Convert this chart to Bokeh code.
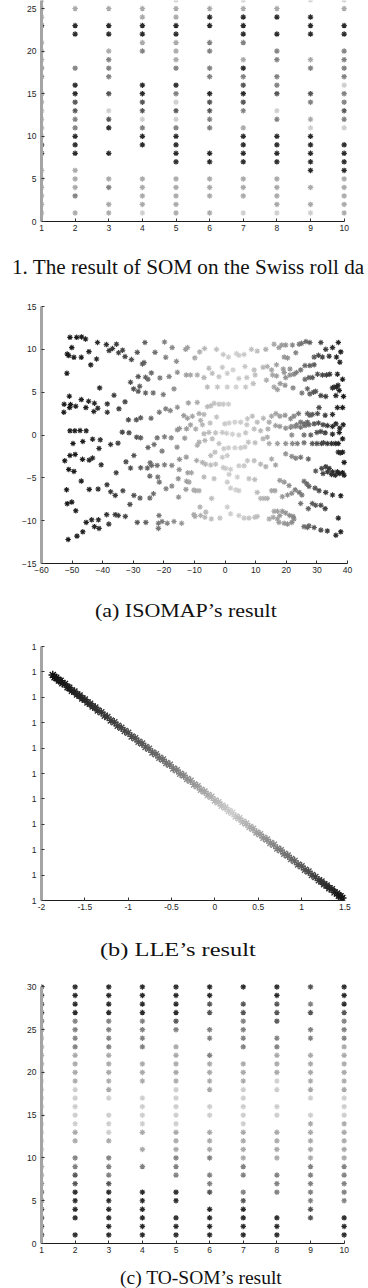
from bokeh.plotting import figure
from bokeh.layouts import column
from bokeh.models import Div, FixedTicker
from bokeh.transform import linear_cmap
from bokeh.embed import file_html
from bokeh.resources import INLINE
import numpy as np

# ---------------- data ----------------
SHADE = {"D": "#2b2b2b", "M": "#565656", "G": "#828282", "L": "#aaaaaa", "V": "#cecece"}

# Fig. 1 : SOM on the Swiss roll (columns 1..10, grid rows, shade per node)
som_rows = [
    [1, 2, 3, 4, 5, 6, 8, 9, 10, 11, 12, 13, 14, 15, 17, 18, 19, 20, 21, 23, 24, 25, 26],
    [1, 3, 4, 5, 6, 8, 9, 10, 11, 12, 13, 14, 15, 16, 18, 22, 23, 25],
    [1, 2, 4, 5, 8, 11, 12, 13, 15, 17, 18, 19, 20, 22, 23, 25],
    [1, 2, 3, 4, 5, 9, 10, 11, 12, 13, 14, 15, 16, 20, 21, 22, 23, 24, 25],
    [1, 2, 3, 4, 5, 7, 8, 9, 10, 11, 12, 13, 14, 15, 16, 18, 19, 20, 21, 22, 23, 24, 25, 26],
    [1, 3, 4, 5, 7, 8, 11, 12, 13, 14, 15, 17, 18, 20, 21, 23, 24, 25],
    [1, 3, 4, 5, 7, 8, 9, 10, 11, 13, 14, 15, 16, 17, 18, 19, 21, 22, 23, 24, 25, 26],
    [1, 2, 3, 4, 5, 7, 8, 9, 10, 12, 13, 15, 16, 17, 19, 20, 22, 24, 25],
    [1, 2, 4, 6, 7, 8, 9, 10, 11, 12, 14, 15, 18, 19, 22, 23, 24, 26],
    [1, 2, 3, 4, 5, 6, 7, 8, 9, 11, 12, 13, 14, 15, 16, 17, 18, 19, 20, 22, 23, 25, 26],
]
som_shades = [
    "LLLLLLDDLLLLLGGGLLLDLLL",
    "LGLLLDDDGGMMDDGDDL",
    "LLGLDDMVMGGGLDDL",
    "VLLLLDDGVMMDDGLDDLL",
    "LLLLLDDDDGVMVGDGLLLDDLLV",
    "LLLLDDGGMMDGGGGDDL",
    "VLLLDDDDLGMDMGDLGDDDLV",
    "VLLLLDDDDGVMGGGGDDL",
    "VLLDDDDDVLGMGLDDDV",
    "LLLLLDDDDVGMGGVGGGGDDLV",
]

# (c) TO-SOM's result
tosom_rows = [
    list(range(1, 31)),
    [1, 3, 4, 5, 6, 7, 8, 9, 10, 12, 13, 14, 15, 16, 17, 18, 19, 20, 21, 22, 23, 24, 25, 26, 27, 28, 29, 30],
    [1, 2, 3, 4, 5, 6, 7, 8, 9, 10, 12, 13, 14, 15, 17, 18, 19, 20, 21, 22, 23, 24, 25, 26, 27, 28, 29, 30],
    [1, 2, 3, 4, 5, 6, 9, 11, 13, 14, 15, 16, 17, 19, 20, 21, 23, 24, 25, 26, 27, 28, 29, 30],
    [1, 2, 3, 5, 6, 8, 9, 10, 11, 12, 13, 14, 15, 16, 17, 18, 19, 20, 21, 22, 23, 25, 26, 27, 28, 29, 30],
    [1, 2, 3, 4, 6, 7, 8, 10, 11, 12, 13, 15, 16, 18, 19, 20, 21, 22, 24, 25, 27, 28, 29, 30],
    [1, 2, 3, 4, 5, 6, 8, 9, 10, 11, 12, 13, 14, 15, 16, 17, 18, 19, 20, 21, 23, 24, 25, 26, 27, 28, 30],
    [1, 2, 3, 6, 7, 8, 10, 11, 12, 13, 15, 16, 18, 19, 20, 21, 22, 23, 24, 26, 27, 28, 29, 30],
    [3, 4, 5, 6, 7, 8, 9, 10, 11, 12, 13, 14, 15, 17, 18, 19, 20, 21, 22, 24, 25, 27, 28, 30],
    [1, 2, 3, 5, 6, 7, 8, 9, 10, 11, 12, 13, 14, 15, 16, 17, 18, 19, 20, 21, 22, 23, 24, 25, 26, 27, 28, 29, 30],
]
tosom_shades = [
    "DDDDMMGLLVVVVVVVVVVLLLLLGMDDDD",
    "DDDDDMMGGLLVVVVVLLLLGGGGDDDD",
    "DDDDDDMGGGLVVVVLLLLLGGGGDDDD",
    "DDDDDDGLLVVVVLLLGGGGDDDD",
    "DDDDDGGGLLLVVVVVLLLLLGMDDDD",
    "DDDDMGGGLLLVVLLLLGGGMMDD",
    "DDDDMGGGLLLLVVVVVLLLGGGGMMD",
    "DDDGGGLLLLVVVVLLLGGMMMDD",
    "MMGGGGGLLLLLVVLLLLLGGMGM",
    "DDDGGGGGLLLLLVVVLLLLLLGGGMDDD",
]

# (a) ISOMAP's result, read band by band
isomap_band1 = [(-50.7, 11.4), (-48.5, 11.4), (-46.9, 11.45), (-45.6, 11.2), (-50.1, 10.2), (-51.6, 9.46),
                (-51.1, 9.27), (-49.4, 9.07), (-47.0, 9.07), (-41.7, 10.8), (-44.5, 9.73), (-43.9, 8.18),
                (-42.0, 8.87), (-38.8, 10.55), (-37.9, 9.85), (-36.8, 10.1), (-35.5, 10.6), (-33.5, 9.9),
                (-32.7, 9.15), (-34.8, 9.6), (-30.6, 8.8), (-28.7, 9.65), (-26.2, 10.8), (-22.9, 9.65),
                (-19.8, 10.86), (-19.4, 9.07), (-17.3, 10.2), (-15.9, 8.6), (-12.9, 10.0), (-12.3, 10.2),
                (-9.9, 9.0), (-8.3, 9.7), (-6.7, 10.1), (-2.8, 10.0), (-0.6, 9.4), (1.1, 9.1), (3.7, 9.5),
                (4.5, 9.3), (6.2, 9.4), (8.6, 10.0), (10.5, 9.8), (13.3, 10.0), (16.0, 10.6), (17.6, 10.2),
                (18.5, 10.5), (19.8, 10.5), (19.3, 9.1), (20.4, 9.0), (22.0, 10.5), (23.1, 9.6), (24.2, 10.6),
                (25.0, 10.7), (26.4, 10.9), (27.7, 10.8), (31.3, 10.8), (32.9, 10.0), (35.1, 10.2), (37.0, 10.8),
                (37.8, 9.7), (29.1, 9.1), (30.5, 9.3), (31.8, 9.1), (34.0, 9.2), (36.4, 9.1), (37.5, 8.5)]
isomap_band2 = [(-51.7, 7.2), (-27.0, 8.3), (-26.5, 8.45), (-24.1, 7.25), (-30.9, 6.16), (-29.9, 5.38),
                (-27.9, 5.69), (-28.4, 6.82), (-26.0, 6.74), (-25.2, 6.51), (-28.4, 5.1), (-26.0, 4.91),
                (-23.5, 4.91), (-20.2, 4.72), (-21.3, 6.66), (-18.3, 6.82), (-15.6, 7.32), (-12.7, 7.0),
                (-11.3, 7.0), (-41.0, 5.5), (-36.3, 4.64), (-16.7, 5.38), (-9.1, 7.0), (-6.9, 6.7), (-5.3, 7.8),
                (-4.2, 7.2), (-2.0, 6.8), (-0.9, 7.9), (0.7, 7.2), (2.6, 7.6), (4.5, 6.6), (6.5, 8.0), (7.1, 6.7),
                (9.5, 7.6), (9.8, 7.0), (12.4, 7.9), (13.8, 8.0), (13.5, 6.4), (15.2, 7.6), (15.5, 7.0),
                (16.8, 8.2), (16.8, 6.9), (19.0, 7.7), (19.3, 7.3), (19.8, 6.7), (21.2, 7.7), (21.2, 7.0),
                (22.5, 7.1), (23.3, 7.3), (24.7, 7.6), (26.1, 8.1), (27.7, 8.1), (29.1, 8.2), (26.1, 6.5),
                (27.4, 6.7), (28.5, 6.7), (30.2, 7.1), (31.8, 7.0), (33.1, 7.0), (34.2, 7.1), (36.7, 7.1),
                (38.4, 6.5), (-5.8, 5.6), (-2.5, 5.6), (0.7, 5.6), (3.6, 5.6), (6.7, 5.6), (9.2, 6.0), (16.0, 5.6),
                (17.1, 5.3), (18.0, 6.0), (19.6, 5.8), (22.2, 5.5), (25.1, 4.9), (26.9, 5.4), (27.7, 4.8),
                (28.9, 5.0), (29.6, 5.1), (31.3, 4.6), (32.9, 4.5), (35.1, 5.5), (35.6, 5.6), (36.4, 5.6),
                (36.9, 5.8), (37.3, 5.2), (36.2, 4.6), (38.7, 4.5)]
isomap_band3 = [(-50.9, 4.52), (-52.6, 3.59), (-52.7, 2.66), (-50.5, 3.55), (-50.8, 3.2), (-48.8, 3.36),
                (-47.0, 4.13), (-45.5, 3.2), (-44.6, 3.94), (-42.7, 3.71), (-42.9, 2.74), (-41.6, 3.13),
                (-38.5, 3.63), (-38.5, 2.66), (-34.7, 3.05), (-32.7, 3.87), (-31.6, 1.77), (-29.0, 1.77),
                (-27.6, 2.0), (-24.2, 1.96), (-21.5, 2.66), (-19.4, 3.05), (-17.9, 2.85), (-15.6, 3.24),
                (-12.0, 3.75), (-13.5, 2.27), (-12.3, 1.96), (-10.7, 2.19), (-11.3, 1.18), (-9.1, 3.8),
                (-5.8, 3.3), (-4.7, 3.4), (-3.6, 3.7), (-2.0, 3.6), (-0.6, 3.6), (1.1, 3.6), (-8.5, 2.5),
                (-6.9, 2.4), (-2.8, 2.1), (-8.0, 1.7), (-4.9, 1.4), (-0.1, 1.3), (1.3, 1.4), (3.2, 1.5), (5.1, 1.5),
                (7.3, 1.9), (8.9, 2.2), (7.1, 1.2), (10.5, 1.5), (12.5, 1.96), (14.4, 1.5), (15.2, 2.2),
                (16.6, 2.5), (17.9, 2.2), (19.6, 2.3), (21.4, 1.9), (22.5, 2.2), (24.0, 2.5), (26.9, 2.5),
                (27.7, 2.3), (28.5, 2.4), (30.2, 2.5), (30.7, 3.2), (32.7, 2.3), (35.1, 2.4), (36.7, 3.2),
                (38.4, 3.2), (24.7, 1.5), (25.8, 1.3), (26.9, 1.5), (29.1, 1.3), (30.5, 1.4), (32.0, 1.2),
                (33.4, 1.1), (35.1, 1.0), (36.2, 1.3), (38.6, 1.2), (21.8, 1.0), (23.4, 1.2)]
isomap_band4 = [(-50.7, 0.49), (-49.1, 0.49), (-47.4, 0.52), (-45.4, 0.49), (-49.7, -0.99), (-46.5, -0.76),
                (-43.3, -0.49), (-40.8, -0.56), (-41.2, -1.57), (-37.4, -1.11), (-35.0, -0.95), (-33.6, 0.33),
                (-31.4, 0.25), (-28.9, -0.25), (-27.6, -0.33), (-25.2, -1.46), (-23.2, -1.11), (-22.2, -0.33),
                (-19.8, -0.21), (-20.6, -1.88), (-15.6, 0.6), (-14.9, 0.76), (-17.6, -0.33), (-15.7, -1.42),
                (-12.6, 0.72), (-13.2, -0.37), (-9.6, 0.7), (-7.4, 1.2), (-5.3, 0.3), (-3.1, 0.25), (-0.9, 0.3),
                (-6.9, 0.14), (0.5, 0.2), (2.4, 0.1), (4.5, 0.0), (6.7, 0.25), (9.5, 0.7), (11.6, 0.5), (14.0, 0.7),
                (16.5, 1.1), (17.9, 1.0), (19.8, 0.8), (21.4, 0.9), (23.1, 1.0), (24.7, 0.9), (26.1, 1.1),
                (27.4, 1.2), (21.8, 0.0), (25.8, 0.0), (28.0, 0.0), (30.0, 0.3), (31.3, 0.4), (32.7, 0.25),
                (35.1, 0.1), (37.3, 0.3), (37.5, 0.8), (38.4, -0.45), (28.5, -1.0), (30.0, -1.0), (31.5, -1.0),
                (32.1, -0.9), (33.4, -1.0), (34.8, -1.0), (36.0, -1.0), (37.0, -1.0), (19.8, -1.0), (22.0, -1.0),
                (23.6, -1.0), (25.8, -0.9), (14.4, -1.0), (17.1, -1.0), (38.4, -2.0), (37.6, -2.1), (37.0, -2.0),
                (38.9, -3.2), (-8.5, -0.84), (-6.6, -0.64), (-4.2, -0.45), (-9.1, -1.2), (-2.0, -1.0),
                (-0.4, -1.6), (1.1, -1.5), (3.2, -1.5), (5.1, -1.5), (6.5, -1.4), (7.6, -0.84), (9.8, -0.9),
                (12.4, -0.45), (13.8, -0.25)]
isomap_band5 = [(-52.4, -3.01), (-50.7, -2.39), (-49.0, -2.27), (-51.1, -4.02), (-49.4, -4.25), (-46.6, -2.84),
                (-44.4, -2.93), (-43.3, -2.68), (-40.5, -3.48), (-35.6, -4.41), (-32.4, -3.13), (-30.9, -3.86),
                (-29.8, -2.39), (-27.6, -3.82), (-25.4, -3.86), (-24.5, -3.24), (-24.0, -3.55), (-22.2, -3.55),
                (-19.8, -3.48), (-17.4, -3.55), (-14.9, -2.84), (-15.0, -4.04), (-12.7, -2.58), (-12.2, -4.41),
                (-11.0, -4.41), (-24.6, -4.8), (-22.0, -4.9), (-21.5, -5.5), (-19.3, -6.27), (-17.4, -5.96),
                (-15.3, -5.1), (-12.6, -5.4), (-11.8, -5.5), (-12.8, -6.35), (-10.2, -6.43), (-9.3, -2.98),
                (-7.4, -3.2), (-4.7, -2.4), (-3.3, -2.0), (-6.4, -3.4), (-4.7, -3.5), (-3.1, -3.4), (-0.9, -2.6),
                (0.7, -2.4), (-0.6, -3.8), (0.2, -3.9), (1.8, -4.0), (1.3, -4.6), (4.5, -3.6), (6.2, -3.6),
                (7.3, -3.0), (9.5, -3.0), (11.6, -3.4), (13.3, -3.7), (15.2, -2.8), (16.5, -3.5), (19.8, -2.2),
                (21.8, -2.5), (23.1, -2.7), (24.7, -2.6), (27.2, -2.8), (29.6, -4.2), (31.6, -3.9), (32.9, -3.7),
                (34.0, -3.9), (35.1, -4.3), (36.7, -4.3), (37.3, -4.5), (38.4, -4.4), (38.9, -4.7), (32.0, -4.5),
                (33.5, -4.3), (34.8, -4.6), (36.0, -4.7), (-6.9, -4.9), (-3.6, -5.1), (0.7, -5.5), (4.0, -4.9),
                (7.8, -5.1), (9.7, -5.2)]
isomap_band6 = [(-51.8, -6.39), (-51.6, -8.02), (-50.1, -7.83), (-48.8, -8.84), (-47.0, -5.38), (-44.4, -6.35),
                (-41.5, -6.31), (-38.6, -5.81), (-37.4, -6.62), (-35.9, -7.05), (-33.4, -6.51), (-31.1, -8.1),
                (-29.8, -7.05), (-27.8, -7.36), (-24.6, -7.36), (-23.4, -6.86), (-15.2, -7.25), (-9.6, -6.5),
                (-8.5, -6.5), (-4.4, -7.4), (1.8, -6.2), (3.5, -6.4), (4.5, -6.5), (10.5, -6.7), (11.6, -7.4),
                (12.7, -7.4), (13.8, -7.4), (15.2, -6.5), (16.3, -6.5), (17.9, -5.3), (19.3, -5.5), (20.9, -5.9),
                (18.7, -7.2), (20.4, -7.0), (21.8, -6.8), (22.9, -6.4), (24.2, -6.7), (25.1, -7.0), (25.8, -5.4),
                (26.7, -5.7), (27.4, -6.0), (29.4, -6.2), (30.7, -6.5), (32.9, -6.7), (35.1, -7.0), (37.8, -7.1),
                (24.7, -8.0), (27.2, -8.6), (28.5, -8.0), (29.6, -8.2), (31.3, -8.2), (32.7, -8.6), (37.0, -9.7),
                (-8.2, -8.4), (0.7, -8.4)]
isomap_band7 = [(-51.3, -12.2), (-48.4, -11.8), (-46.5, -11.3), (-45.4, -10.2), (-43.6, -9.9), (-41.4, -9.9),
                (-42.7, -10.7), (-41.2, -10.9), (-38.0, -10.4), (-35.9, -9.3), (-34.9, -9.4), (-32.6, -9.5),
                (-38.7, -9.3), (-28.7, -10.2), (-25.9, -10.2), (-21.6, -9.4), (-21.8, -10.3), (-21.8, -10.9),
                (-20.6, -10.1), (-18.9, -10.3), (-16.7, -10.1), (-14.2, -10.3), (-10.2, -9.3), (-9.85, -9.5),
                (-8.0, -9.4), (-6.3, -9.0), (-6.6, -9.6), (-4.5, -9.8), (-1.7, -9.7), (1.8, -9.2), (4.5, -9.4),
                (6.2, -9.7), (7.8, -9.7), (9.7, -9.6), (10.5, -9.5), (14.4, -9.8), (15.7, -9.6), (17.1, -9.8),
                (17.9, -9.4), (16.0, -8.9), (17.1, -8.9), (18.7, -8.9), (19.8, -9.1), (21.1, -9.4), (22.2, -9.5),
                (17.6, -10.2), (19.3, -10.3), (20.4, -10.4), (21.8, -10.2), (22.5, -9.8), (25.8, -10.7),
                (26.9, -10.8), (27.4, -10.6), (29.1, -10.8), (31.3, -11.1), (33.4, -11.2), (36.2, -11.7),
                (37.8, -11.3)]

# (b) LLE's result (second coordinate shown on the original's axis as 1)
lle_x = [-1.87, -1.85, -1.83, -1.80, -1.78, -1.76, -1.73, -1.70, -1.68, -1.65, -1.62, -1.59, -1.56, -1.53,
         -1.50, -1.47, -1.44, -1.41, -1.38, -1.35, -1.31, -1.27, -1.24, -1.20, -1.16, -1.12, -1.08, -1.04,
         -1.00, -0.96, -0.92, -0.88, -0.84, -0.80, -0.76, -0.72, -0.68, -0.64, -0.60, -0.56, -0.52, -0.48,
         -0.44, -0.40, -0.36, -0.32, -0.28, -0.24, -0.20, -0.16, -0.12, -0.08, -0.04, 0.00, 0.04, 0.08,
         0.12, 0.16, 0.20, 0.24, 0.28, 0.32, 0.36, 0.40, 0.44, 0.48, 0.52, 0.56, 0.60, 0.64, 0.68, 0.72,
         0.76, 0.80, 0.84, 0.88, 0.92, 0.96, 1.00, 1.04, 1.08, 1.12, 1.16, 1.20, 1.23, 1.26, 1.29, 1.32,
         1.35, 1.38, 1.41, 1.43, 1.45, 1.47]
lle_y = [8.88, 8.79, 8.77, 8.66, 8.65, 8.55, 8.52, 8.40, 8.38, 8.26, 8.23, 8.11, 8.07, 7.95,
         7.91, 7.80, 7.75, 7.64, 7.60, 7.48, 7.41, 7.27, 7.22, 7.09, 7.02, 6.88, 6.80, 6.67,
         6.60, 6.46, 6.39, 6.25, 6.18, 6.04, 5.97, 5.83, 5.76, 5.62, 5.55, 5.41, 5.34, 5.20,
         5.13, 4.99, 4.92, 4.78, 4.71, 4.57, 4.50, 4.36, 4.29, 4.15, 4.08, 3.94, 3.87, 3.73,
         3.66, 3.52, 3.45, 3.31, 3.24, 3.10, 3.03, 2.89, 2.82, 2.68, 2.61, 2.47, 2.40, 2.26, 2.19, 2.05,
         1.98, 1.84, 1.77, 1.63, 1.56, 1.42, 1.35, 1.21, 1.14, 1.00, 0.93, 0.80, 0.75, 0.64, 0.59, 0.48,
         0.44, 0.32, 0.28, 0.19, 0.17, 0.10]

som_xticks = [1, 2, 3, 4, 5, 6, 7, 8, 9, 10]
som_yticks = [0, 5, 10, 15, 20, 25]
tosom_yticks = [0, 5, 10, 15, 20, 25, 30]
isomap_xticks = [-60, -50, -40, -30, -20, -10, 0, 10, 20, 30, 40]
isomap_yticks = [-15, -10, -5, 0, 5, 10, 15]
lle_xticks = [-2, -1.5, -1, -0.5, 0, 0.5, 1, 1.5]
lle_xlabels = ["-2", "-1.5", "-1", "-0.5", "0", "0.5", "1", "1.5"]
lle_yticks = [0, 1, 2, 3, 4, 5, 6, 7, 8, 9, 10]
lle_ylabels = ["1"] * 11

W = 368


# ---------------- helpers ----------------
def gray_palette(lo, hi, ax, ag, n=200):
    xs = np.linspace(lo, hi, n)
    g = np.interp(xs, ax, ag).astype(int)
    return ["#%02x%02x%02x" % (v, v, v) for v in g]


def make_fig(height, xr, yr, top, bottom, right):
    p = figure(width=W, height=height, x_range=xr, y_range=yr, output_backend="svg",
               toolbar_location=None, title=None, min_border_left=41, min_border_right=right,
               min_border_top=top, min_border_bottom=bottom, outline_line_color=None,
               background_fill_color="white", border_fill_color="white")
    p.xgrid.visible = False
    p.ygrid.visible = False
    for ax in (p.xaxis[0], p.yaxis[0]):
        ax.major_tick_in = 3
        ax.major_tick_out = 0
        ax.minor_tick_line_color = None
        ax.major_label_text_font = "Liberation Sans"
        ax.major_label_text_font_size = "8.5px"
        ax.major_label_text_color = "#1e1e1e"
        ax.major_tick_line_color = "#333333"
    p.xaxis.axis_line_color = "#1e1e1e"
    p.xaxis.axis_line_width = 1
    p.xaxis.major_label_standoff = 3
    p.yaxis.axis_line_color = "#a4a4a4"
    p.yaxis.axis_line_width = 3
    p.yaxis.major_label_standoff = 5
    return p


def grid_points(rows, shades):
    xs, ys, cs = [], [], []
    for i, (r, s) in enumerate(zip(rows, shades)):
        assert len(r) == len(s)
        for yy, ch in zip(r, s):
            xs.append(i + 1)
            ys.append(yy)
            cs.append(SHADE[ch])
    return xs, ys, cs


def caption(text, height, left, top, size, sx):
    html = ('<div style="position:relative;width:%dpx;height:%dpx;overflow:hidden;">'
            '<span style="position:absolute;left:%.1fpx;top:%.1fpx;font-family:\'Liberation Serif\',serif;'
            'font-size:%.1fpx;line-height:1;white-space:nowrap;color:#111;transform:scaleX(%.3f);'
            'transform-origin:0 0;">%s</span></div>') % (W, height, left, top, size, sx, text)
    return Div(text=html, width=W, height=height, margin=0)


# ---------------- Fig. 1 : SOM ----------------
p1 = make_fig(244, (1, 10.1), (0, 25.94), 0, 23, 18)
p1.xaxis.ticker = FixedTicker(ticks=som_xticks)
p1.yaxis.ticker = FixedTicker(ticks=som_yticks)
p1.xaxis.bounds = (1, 10)
sx, sy, sc = grid_points(som_rows, som_shades)
p1.scatter(sx, sy, marker="asterisk", size=5.5, line_color=sc, line_width=1.2)

# ---------------- (a) ISOMAP ----------------
p2 = make_fig(300, (-60, 40), (-15, 15), 14, 29, 21)
p2.xaxis.ticker = FixedTicker(ticks=isomap_xticks)
p2.yaxis.ticker = FixedTicker(ticks=isomap_yticks)
iso = isomap_band1 + isomap_band2 + isomap_band3 + isomap_band4 + isomap_band5 + isomap_band6 + isomap_band7
iso_pal = gray_palette(-53, 40, [-53, -45, -35, -25, -15, -5, 3, 12, 22, 30, 36, 40],
                       [25, 35, 65, 105, 150, 190, 210, 185, 140, 85, 45, 25])
p2.scatter(x=[a for a, b in iso], y=[b for a, b in iso], marker="asterisk", size=5.5, line_width=1.1,
           line_color=linear_cmap("x", iso_pal, -53, 40))

# ---------------- (b) LLE ----------------
p3 = make_fig(298, (-2, 1.53), (0, 10), 14, 30, 19)
p3.xaxis.ticker = FixedTicker(ticks=lle_xticks)
p3.yaxis.ticker = FixedTicker(ticks=lle_yticks)
p3.xaxis.bounds = (-2, 1.5)
p3.xaxis.major_label_overrides = {t: l for t, l in zip(lle_xticks, lle_xlabels)}
p3.yaxis.major_label_overrides = {t: l for t, l in zip(lle_yticks, lle_ylabels)}
lle_pal = gray_palette(-2, 1.53, [-2, -1.9, -1.5, -1.0, -0.5, 0.0, 0.2, 0.5, 0.9, 1.2, 1.53],
                       [15, 15, 40, 75, 120, 180, 205, 160, 105, 60, 15])
p3.scatter(x=lle_x, y=lle_y, marker="asterisk", size=8.5, line_width=1.4,
           line_color=linear_cmap("x", lle_pal, -2, 1.53))

# ---------------- (c) TO-SOM ----------------
p4 = make_fig(294, (1, 10.1), (0, 30.4), 11, 23, 18)
p4.xaxis.ticker = FixedTicker(ticks=som_xticks)
p4.yaxis.ticker = FixedTicker(ticks=tosom_yticks)
p4.xaxis.bounds = (1, 10)
p4.yaxis.bounds = (0, 30)
tx, ty, tc = grid_points(tosom_rows, tosom_shades)
p4.scatter(tx, ty, marker="asterisk", size=5.5, line_color=tc, line_width=1.2)

# ---------------- captions ----------------
c1 = caption("1. The result of SOM on the Swiss roll da", 48, 12, 13.3, 20, 1.058)
ca = caption("(a) ISOMAP\u2019s result", 40, 95, 9.4, 19.5, 1.126)
cb = caption("(b) LLE\u2019s result", 42, 100, 9.7, 19.5, 1.25)
cc = caption("(c) TO-SOM\u2019s result", 22, 120, 1.7, 19.5, 1.0)

layout = column(p1, c1, p2, ca, p3, cb, p4, cc, spacing=0)
open("out.html", "w").write(file_html(layout, INLINE))
